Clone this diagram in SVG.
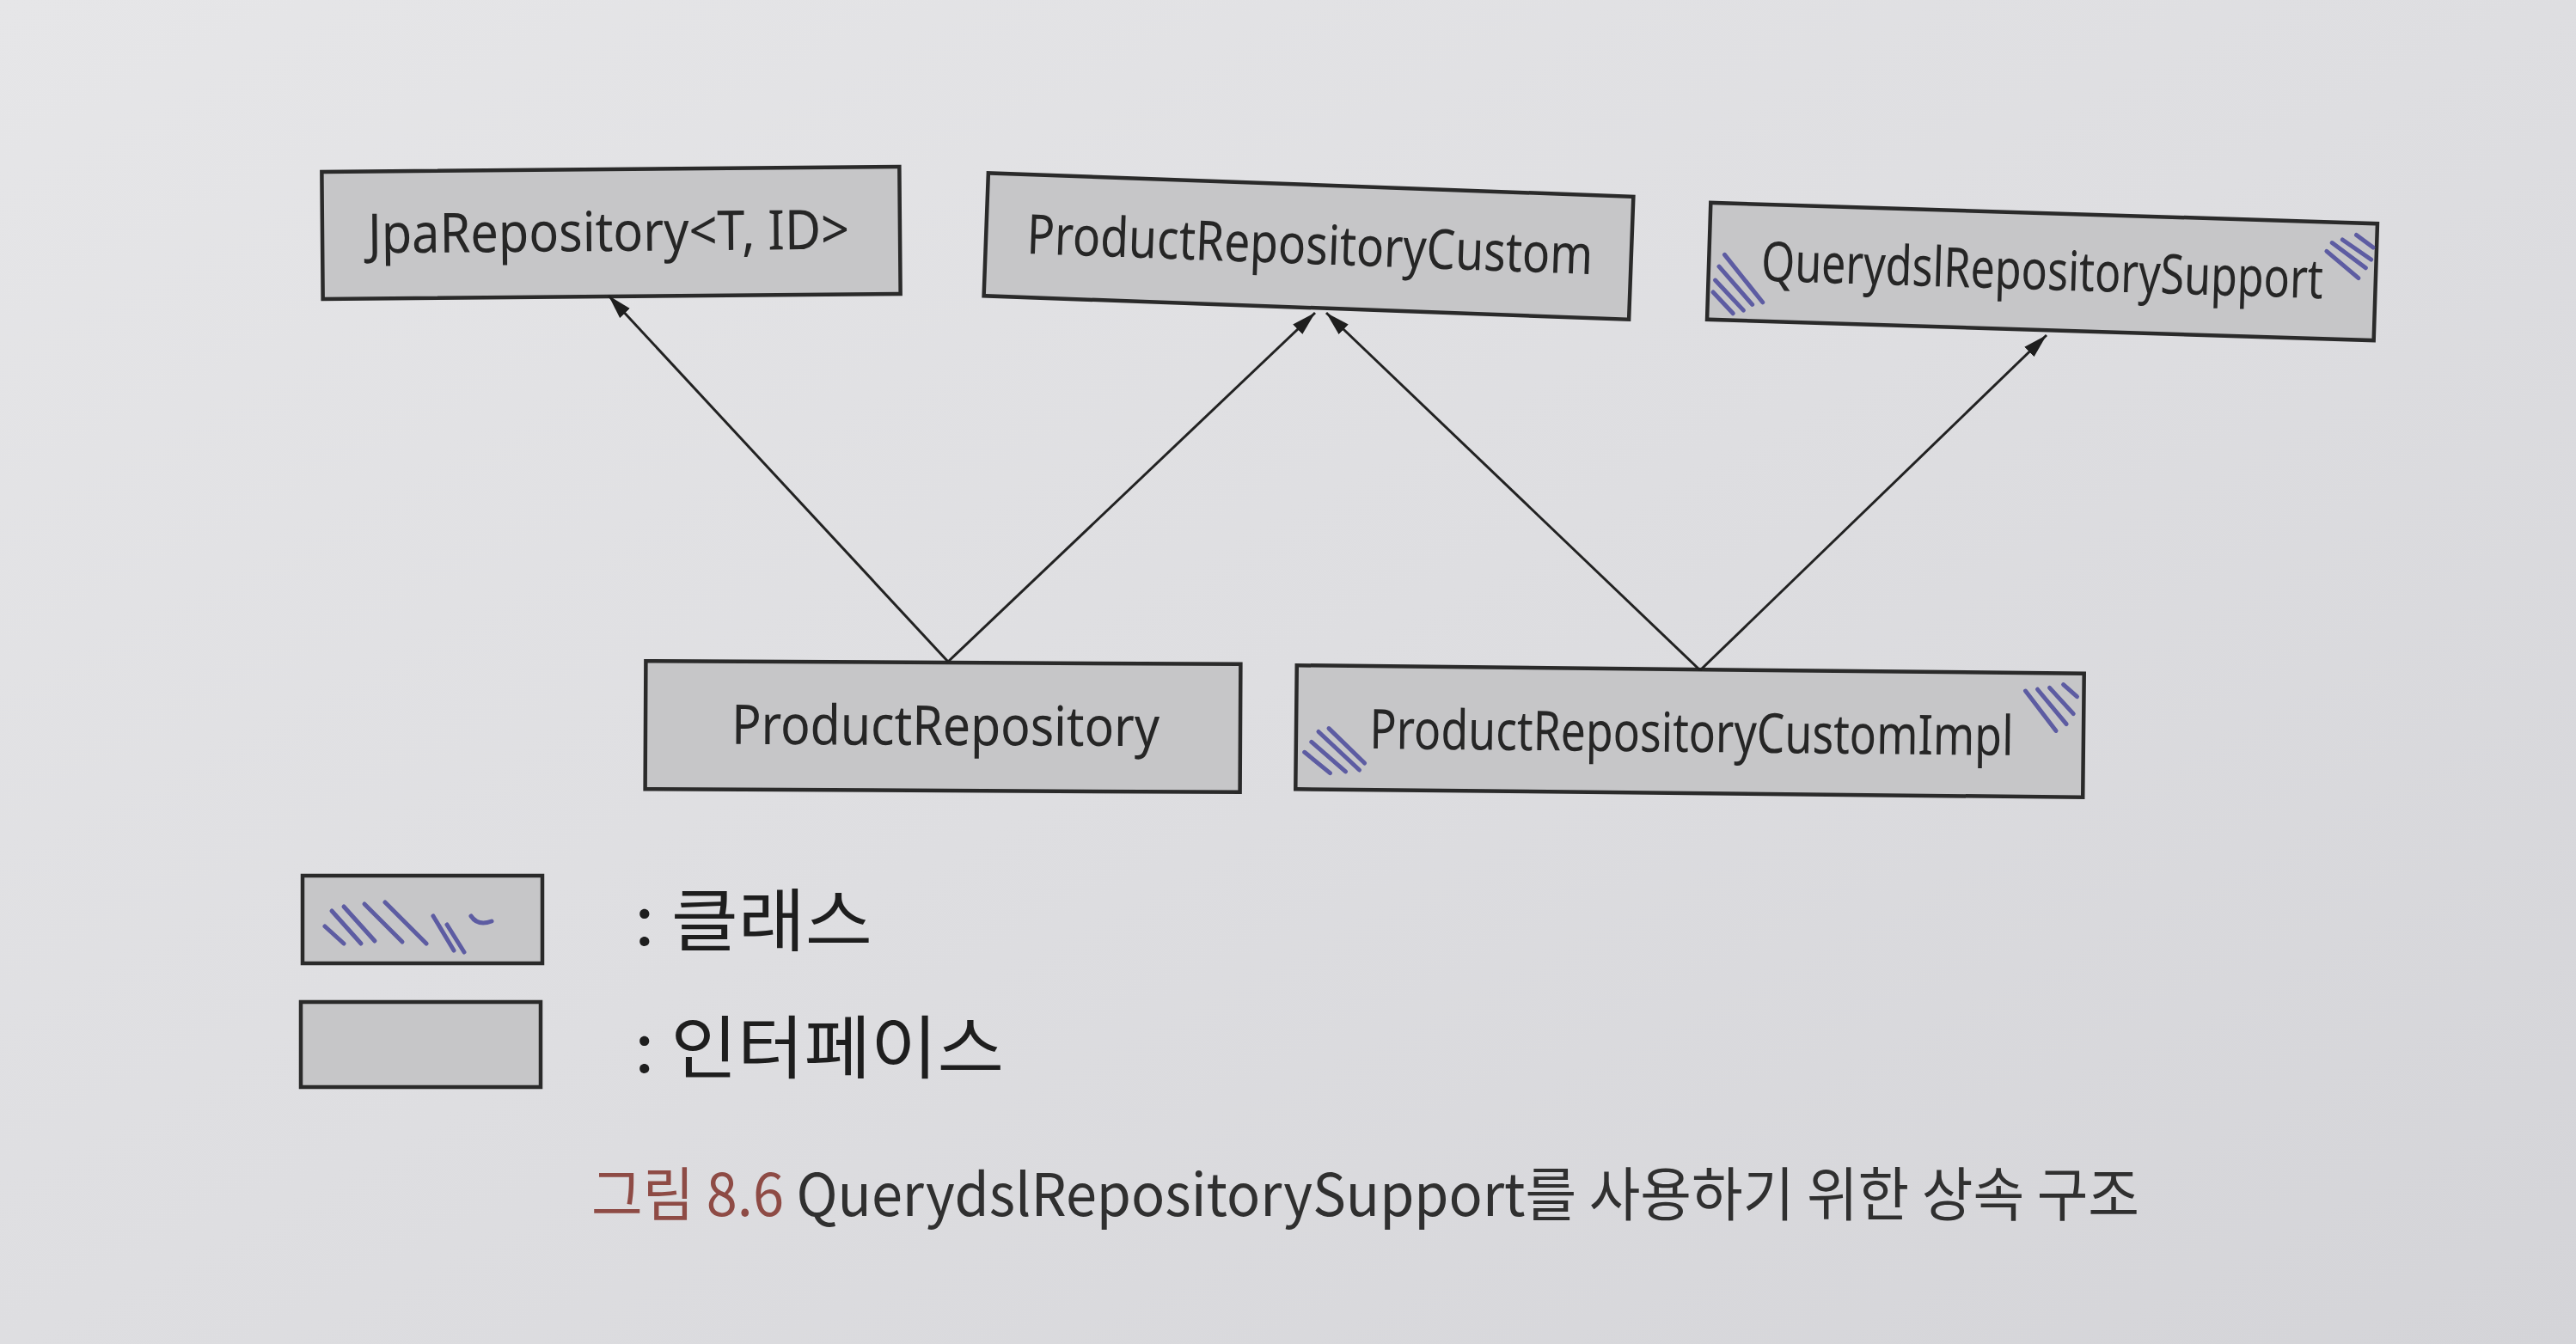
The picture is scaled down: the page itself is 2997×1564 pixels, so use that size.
<svg xmlns="http://www.w3.org/2000/svg" width="2997" height="1564" viewBox="0 0 2997 1564">
<defs>
<linearGradient id="bg" x1="0" y1="0" x2="1" y2="1">
<stop offset="0" stop-color="#e6e6e8"/>
<stop offset="0.5" stop-color="#dedee1"/>
<stop offset="1" stop-color="#d4d4d8"/>
</linearGradient>
<marker id="arr" markerUnits="userSpaceOnUse" markerWidth="30" markerHeight="20" refX="28" refY="10" orient="auto">
<path d="M0,2 L28,10 L0,18 Z" fill="#1e1e1e"/>
</marker>
<style>
.box{fill:#c6c6c8;stroke:#2a2a2a;stroke-width:4.5}
.lbl{font-family:"Noto Sans","Open Sans","Liberation Sans",sans-serif;font-size:64px;fill:#262626;text-anchor:middle}
.edge{stroke:#222;stroke-width:3;fill:none;marker-end:url(#arr)}
.hatch{stroke:#4b4a9c;stroke-width:5;stroke-linecap:round;fill:none;opacity:0.85}
.leg{font-family:"Noto Sans CJK KR","Noto Sans",sans-serif;font-size:80px;fill:#1e1e1e}
.cap{font-family:"Noto Sans CJK KR","Noto Sans",sans-serif;font-size:68px;font-weight:400}
</style>
</defs>
<rect width="2997" height="1564" fill="url(#bg)"/>

<g id="n-jpa" transform="rotate(-0.5 711 271)">
<rect class="box" x="375" y="197" width="672" height="148"/>
<text class="lbl" x="708" y="292" textLength="560" lengthAdjust="spacingAndGlyphs">JpaRepository&lt;T, ID&gt;</text>
</g>

<g id="n-prc" transform="rotate(2.1 1522 286)">
<rect class="box" x="1147" y="215" width="751" height="143"/>
<text class="lbl" x="1524" y="307" textLength="659" lengthAdjust="spacingAndGlyphs">ProductRepositoryCustom</text>
</g>

<g id="n-qrs" transform="rotate(1.8 2376 316)">
<rect class="box" x="1988" y="248" width="776" height="136"/>
<text class="lbl" x="2376" y="337" textLength="654" lengthAdjust="spacingAndGlyphs">QuerydslRepositorySupport</text>
<g class="hatch">
<path d="M2000,322 L2040,365"/><path d="M1996,338 L2030,372"/><path d="M1994,352 L2018,376"/><path d="M2006,308 L2052,362"/>
<path d="M2712,272 L2752,300"/><path d="M2724,268 L2758,290"/><path d="M2706,282 L2744,312"/><path d="M2740,262 L2760,276"/>
</g>
</g>

<g id="n-pr" transform="rotate(0.3 1097 845)">
<rect class="box" x="751" y="771" width="692" height="149"/>
<text class="lbl" x="1100" y="867" textLength="498" lengthAdjust="spacingAndGlyphs">ProductRepository</text>
</g>

<g id="n-prci" transform="rotate(0.6 1966 851)">
<rect class="box" x="1508" y="779" width="916" height="144"/>
<text class="lbl" x="1968" y="875" textLength="749" lengthAdjust="spacingAndGlyphs">ProductRepositoryCustomImpl</text>
<g class="hatch">
<path d="M1534,856 L1582,900"/><path d="M1526,868 L1566,902"/><path d="M1518,880 L1548,904"/><path d="M1546,852 L1588,892"/>
<path d="M2356,800 L2392,846"/><path d="M2370,798 L2404,838"/><path d="M2384,796 L2412,826"/><path d="M2400,792 L2416,806"/>
</g>
</g>

<g id="connectors">
<line class="edge" x1="1103" y1="770" x2="708" y2="344"/>
<line class="edge" x1="1103" y1="770" x2="1530" y2="364"/>
<line class="edge" x1="1978" y1="780" x2="1543" y2="364"/>
<line class="edge" x1="1978" y1="780" x2="2381" y2="390"/>
</g>

<g id="legend">
<g id="leg-class">
<rect class="box" x="352" y="1019" width="279" height="102"/>
<g class="hatch" stroke-width="4">
<path d="M378,1078 L400,1098"/><path d="M386,1060 L420,1098"/><path d="M400,1055 L436,1095"/><path d="M424,1052 L468,1096"/><path d="M448,1050 L496,1098"/><path d="M504,1066 L528,1106"/><path d="M520,1076 L540,1108"/><path d="M548,1066 Q556,1078 572,1072"/>
</g>
<text class="leg" x="738" y="1100" textLength="277" lengthAdjust="spacingAndGlyphs">: 클래스</text>
</g>
<g id="leg-iface">
<rect class="box" x="350" y="1166" width="279" height="99"/>
<text class="leg" x="738" y="1248" textLength="430" lengthAdjust="spacingAndGlyphs">: 인터페이스</text>
</g>
</g>

<text class="cap" x="688" y="1415" textLength="1801" lengthAdjust="spacingAndGlyphs"><tspan fill="#8e4b45">그림 8.6</tspan><tspan fill="#303030"> QuerydslRepositorySupport를 사용하기 위한 상속 구조</tspan></text>
</svg>
